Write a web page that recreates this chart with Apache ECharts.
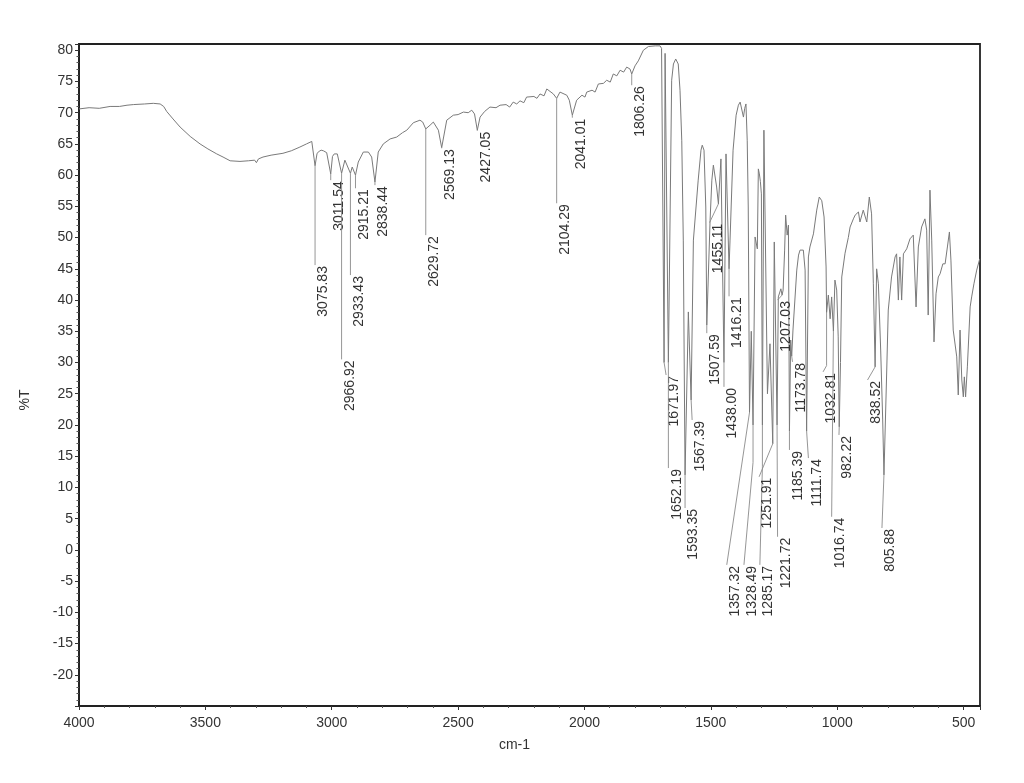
<!DOCTYPE html>
<html><head><meta charset="utf-8">
<script src="https://cdn.jsdelivr.net/npm/echarts@6/dist/echarts.min.js"></script>
<style>html,body{margin:0;padding:0;background:#fff}#chart{width:1024px;height:783px}</style>
</head><body><div id="chart"></div>
<script>
// Spectrum: wavenumber (cm-1) and %T
const specWn = [4000,3960,3920,3877,3840,3810,3785,3740,3706,3679,3665,3653,3628,3600,3560,3521,3490,3455,3430,3402,3363,3330,3305,3298,3290,3272,3240,3193,3160,3126,3100,3079,3066,3058,3050,3042,3033,3020,3004,2997,2990,2978,2961,2948,2926,2919,2906,2895,2875,2855,2842,2829,2816,2796,2769,2743,2720,2703,2677,2651,2640,2628,2611,2598,2578,2565,2545,2519,2500,2479,2460,2446,2435,2424,2413,2395,2374,2350,2334,2310,2296,2282,2268,2255,2240,2229,2200,2188,2176,2160,2149,2123,2110,2097,2070,2060,2048,2031,2010,1998,1991,1970,1958,1945,1925,1912,1898,1886,1872,1859,1845,1833,1820,1813,1800,1787,1767,1747,1720,1701,1695,1685,1681,1668,1655,1648,1639,1629,1622,1615,1609,1602,1589,1578,1569,1550,1539,1534,1527,1520,1516,1503,1496,1490,1477,1470,1460,1448,1440,1428,1424,1412,1400,1391,1384,1378,1371,1366,1361,1356,1352,1347,1340,1333,1325,1316,1312,1308,1304,1300,1296,1290,1276,1266,1255,1249,1238,1233,1223,1218,1214,1208,1204,1198,1193,1189,1184,1180,1175,1160,1153,1147,1140,1134,1127,1121,1114,1108,1094,1081,1071,1061,1052,1044,1042,1035,1028,1022,1015,1009,1002,996,992,987,982,969,956,949,936,929,916,910,897,883,873,864,857,850,844,837,828,820,815,804,798,785,771,765,758,752,745,738,725,712,699,688,679,666,653,646,640,633,626,617,609,600,593,582,573,564,556,550,541,534,527,521,514,507,501,497,492,485,474,468,459,448,436];
const specT = [70.6,70.8,70.7,71.0,71.0,71.2,71.3,71.4,71.5,71.4,71.0,70.2,69.0,67.7,66.2,65.0,64.2,63.4,62.9,62.3,62.2,62.3,62.4,62.0,62.6,62.9,63.2,63.5,63.9,64.5,65.0,65.4,61.5,63.5,63.8,64.0,63.9,63.6,60.2,63.0,63.4,63.4,60.3,62.4,60.3,61.3,60.0,62.1,63.7,63.7,62.9,58.9,63.7,65.0,65.8,66.1,66.8,67.2,68.4,68.8,68.5,67.4,68.0,68.5,67.2,64.4,68.8,69.6,69.7,70.1,70.0,70.4,69.8,67.2,69.3,70.2,70.9,70.8,71.2,71.3,70.9,71.7,71.4,71.9,71.6,72.5,72.6,72.3,73.0,72.7,73.8,73.0,72.3,73.3,72.8,72.0,69.6,72.0,72.8,72.5,73.3,73.6,73.3,74.6,74.7,75.2,74.9,76.2,75.9,76.8,76.5,77.3,77.0,76.2,77.5,78.3,80.0,80.6,80.7,80.7,80.3,30,79.5,30,75.2,77.8,78.6,77.8,73.6,65.5,49.6,12,38.1,24,49.6,59.2,64.0,64.8,64.0,54.9,36,52.8,59.2,61.6,58.1,55.4,62.6,30,63.4,45,49.6,64.0,69.6,71.2,71.7,71.7,69.3,70.7,71.4,65.5,54.9,22,35,20,50.1,48.2,61.0,60.2,59.0,57,20,67.2,25,33,17,49.3,20,40.5,41.8,40.8,41.6,48,53.6,50.4,52.0,19,33.6,31,35.2,44.8,47.2,48.0,48.3,48.0,44.8,19,46.9,48.5,50.6,54.4,56.5,55.9,53.3,45.3,38,40.8,37.0,40.5,35,43.2,41.6,34.1,19.7,30,43.7,47.5,50.0,51.7,53.0,53.6,54.1,52.5,54.4,52.5,56.5,53.8,42.6,29.3,45.0,42.6,32,20.8,12,28.8,38.4,43.7,46.9,47.4,40.0,46.9,40.0,47.4,48.2,49.8,50.4,38.9,48.5,51.7,53.0,51.2,37.6,57.6,49.6,33.3,41.0,43.7,44.2,45.8,45.8,48.5,50.9,46.4,35.2,35.5,30.9,24.8,35.2,27.2,24.5,27.7,24.5,29.3,38.9,40.5,42.6,44.8,46.6];

// Peak labels: curve minimum, optional bend, and end of leader (top of label)
const peakLabels = ['3075.83','3011.54','2966.92','2933.43','2915.21','2838.44','2629.72','2569.13','2427.05','2104.29','2041.01','1806.26','1671.97','1652.19','1593.35','1567.39','1507.59','1455.11','1438.00','1416.21','1357.32','1328.49','1285.17','1251.91','1221.72','1207.03','1185.39','1173.78','1111.74','1032.81','1016.74','982.22','838.52','805.88'];
const peakWn = [3066,3004,2961,2926,2906,2829,2628,2565,2424,2110,2048,1813,1685,1668,1602,1578,1516,1470,1448,1428,1347,1333,1296,1255,1238,1218,1189,1180,1121,1042,1015,992,850,815];
const peakT  = [61.5,60.2,60.3,60.3,60.0,58.9,67.4,64.4,67.2,72.3,69.6,76.2,30,30,12,24,36,55.4,30,45,22,20,20,17,20,40.8,19,31,19,38,35,19.7,29.3,12];
const bendWn = [null,null,null,null,null,null,null,null,null,null,null,null,null,null,null,null,null,null,null,null,null,1333,1296,null,null,null,null,null,null,1042,null,null,null,null];
const bendT  = [null,null,null,null,null,null,null,null,null,null,null,null,null,null,null,null,null,null,null,null,null,14,13.3,null,null,null,null,null,null,29.5,null,null,null,null];
const endWn  = [3066,3004,2961,2926,2906,2829,2628,2565,2424,2110,2048,1813,1677,1668,1602,1574,1516,1505,1448,1428,1437,1369,1306,1309,1236,1236,1189,1177,1114,1056,1022,993,880,823];
const endT   = [45.6,59.2,30.5,44.0,57.9,58.4,50.4,64.3,67.1,55.5,69.2,74.4,28.0,13.1,6.7,20.8,34.7,52.4,26.1,40.6,-2.4,-2.4,-2.4,11.7,2.1,40.0,16.0,30.1,14.7,28.5,5.3,18.4,27.2,3.5];

const FONT = '"Liberation Sans", Arial, Helvetica, sans-serif';
const chart = echarts.init(document.getElementById('chart'), null, {renderer: 'canvas'});

function renderItem(params, api) {
  const i = api.value(2);
  const pts = [api.coord([peakWn[i], peakT[i]])];
  if (bendWn[i] !== null) pts.push(api.coord([bendWn[i], bendT[i]]));
  const pe = api.coord([endWn[i], endT[i]]);
  pts.push(pe);
  return {
    type: 'group',
    children: [
      {type: 'polyline', shape: {points: pts}, style: {stroke: '#8a8a8a', lineWidth: 0.9, fill: null}},
      {type: 'text', x: pe[0] + 8.5, y: pe[1] + 1, rotation: Math.PI / 2,
       style: {text: peakLabels[i], fill: '#333', fontSize: 14, fontFamily: FONT, align: 'right', verticalAlign: 'middle'}}
    ]
  };
}

const option = {
  animation: false,
  backgroundColor: '#ffffff',
  grid: {left: 79, right: 44, top: 44, bottom: 77, show: true, borderColor: '#222', borderWidth: 1.8, backgroundColor: 'transparent', containLabel: false},
  xAxis: {
    type: 'value', inverse: true, min: 435, max: 4000, splitNumber: 7,
    name: 'cm-1', nameLocation: 'middle', nameGap: 32,
    nameTextStyle: {color: '#333', fontSize: 14, fontFamily: FONT, padding: [0, 30, 0, 0]},
    axisLine: {show: true, onZero: false, lineStyle: {color: '#222', width: 2}},
    axisTick: {show: true, length: 4, lineStyle: {color: '#333'}},
    minorTick: {show: true, splitNumber: 5, length: 2, lineStyle: {color: '#555'}},
    axisLabel: {color: '#333', fontSize: 14, fontFamily: FONT, margin: 10, showMinLabel: false, showMaxLabel: true,
      formatter: v => (Math.abs(v % 500) < 1e-6 ? String(v) : '')},
    splitLine: {show: false}
  },
  yAxis: {
    type: 'value', min: -25, max: 81, interval: 5,
    name: '%T', nameLocation: 'middle', nameGap: 47, nameRotate: 90,
    nameTextStyle: {color: '#333', fontSize: 14, fontFamily: FONT, padding: [0, 50, 0, 0]},
    axisLine: {show: true, onZero: false, lineStyle: {color: '#222', width: 1.8}},
    axisTick: {show: true, length: 4, lineStyle: {color: '#333'}},
    minorTick: {show: true, splitNumber: 5, length: 2.5, lineStyle: {color: '#555'}},
    axisLabel: {color: '#333', fontSize: 14, fontFamily: FONT, margin: 6,
      formatter: v => ((v % 5 === 0 && v > -25 && v <= 80) ? String(v) : '')},
    splitLine: {show: false}
  },
  series: [
    {type: 'line', data: specWn.map((w, i) => [w, specT[i]]), showSymbol: false, symbol: 'none',
     lineStyle: {color: '#7a7a7a', width: 1}, clip: true, silent: true, z: 2},
    {type: 'custom', renderItem: renderItem, data: peakLabels.map((t, i) => [peakWn[i], peakT[i], i]),
     clip: false, silent: true, z: 3}
  ]
};
chart.setOption(option);
</script></body></html>
